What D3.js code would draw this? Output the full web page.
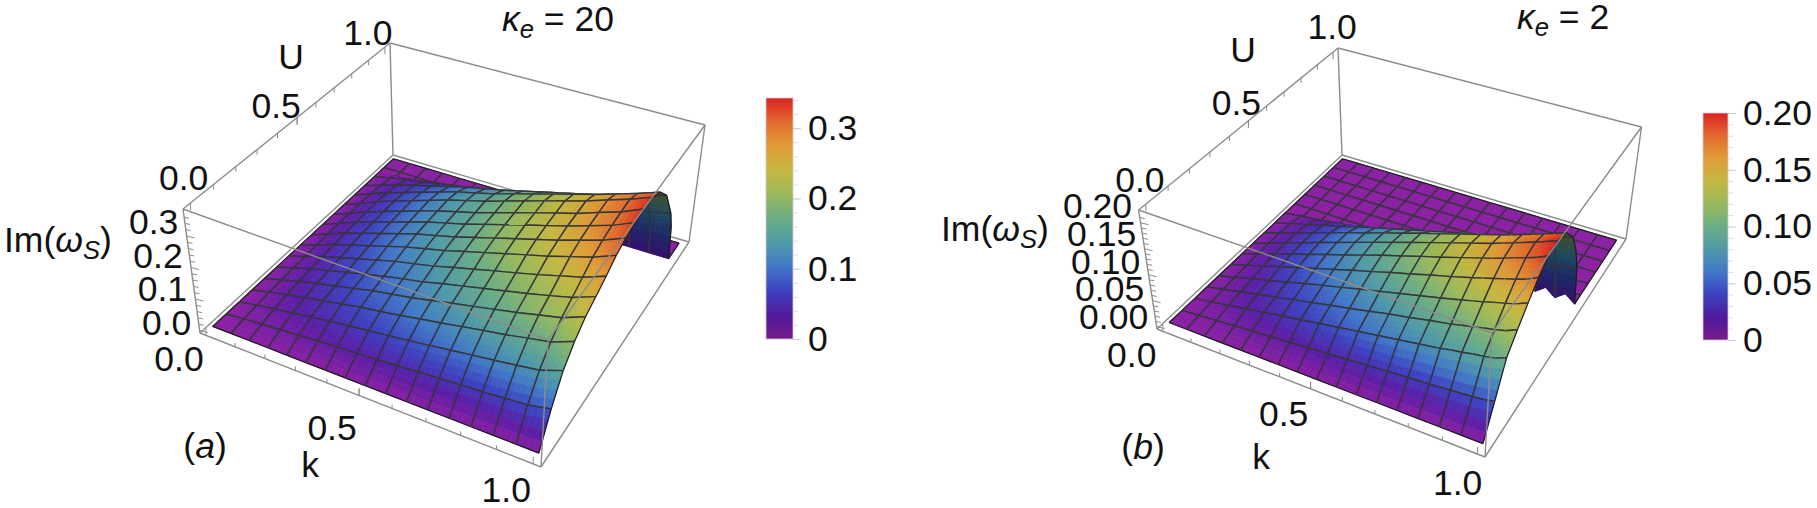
<!DOCTYPE html>
<html>
<head>
<meta charset="utf-8">
<script src="https://cdn.jsdelivr.net/npm/d3@7"></script>
<style>
  body { margin: 0; background: white; }
  text { font-family: "Liberation Sans", Arial, sans-serif; fill: #111; }
</style>
</head>
<body>
<div id="chart"></div>
<script>
// mesh lines sit on multiples of 1/16, the extra rows only shape the cut-off of the arch
const kGridA = [0, .0625, .125, .1875, .25, .3125, .375, .4375, .5, .5625, .625, .6875, .75, .8125, .875, .9375, 1]
const uGridA = [0, .0625, .125, .1875, .25, .3125, .375, .4375, .5, .5625, .625, .6875, .75, .8125, .875, .895, .91, .9375, 1]
// one row per k, one column per U
const zGridA = [
  [0, 0, 0, 0, 0, 0, 0, 0, 0, 0, 0, 0, 0, 0, 0, 0, 0, 0, 0],
  [0, .006, .010, .014, .016, .018, .019, .021, .022, .023, .023, .023, .022, .019, .012, .008, 0, 0, 0],
  [0, .011, .021, .027, .032, .035, .039, .042, .044, .046, .046, .047, .044, .038, .024, .016, 0, 0, 0],
  [0, .016, .029, .039, .046, .050, .055, .060, .063, .065, .066, .067, .063, .054, .034, .023, 0, 0, 0],
  [0, .021, .038, .050, .059, .065, .072, .078, .082, .085, .086, .087, .082, .070, .045, .030, 0, 0, 0],
  [0, .026, .047, .062, .073, .080, .088, .096, .101, .104, .106, .107, .101, .086, .055, .037, 0, 0, 0],
  [0, .030, .056, .074, .087, .095, .105, .114, .120, .124, .125, .127, .120, .102, .065, .044, 0, 0, 0],
  [0, .034, .063, .083, .098, .108, .118, .129, .135, .140, .142, .144, .135, .115, .074, .049, 0, 0, 0],
  [0, .038, .071, .093, .109, .120, .132, .144, .151, .156, .158, .161, .151, .129, .083, .055, 0, 0, 0],
  [0, .043, .079, .105, .123, .136, .149, .162, .170, .176, .178, .181, .170, .145, .093, .062, 0, 0, 0],
  [0, .048, .088, .116, .137, .151, .165, .180, .189, .195, .198, .201, .189, .161, .103, .069, 0, 0, 0],
  [0, .053, .097, .128, .150, .166, .182, .198, .208, .215, .218, .221, .208, .177, .114, .076, 0, 0, 0],
  [0, .058, .106, .140, .164, .181, .198, .216, .227, .234, .238, .241, .227, .193, .124, .083, 0, 0, 0],
  [0, .062, .115, .151, .178, .196, .215, .234, .246, .254, .257, .261, .246, .209, .134, .090, 0, 0, 0],
  [0, .068, .125, .165, .194, .213, .234, .255, .268, .276, .281, .285, .268, .228, .146, .098, 0, 0, 0],
  [0, .074, .135, .178, .210, .231, .253, .276, .290, .299, .304, .308, .290, .247, .158, .106, 0, 0, 0],
  [0, .088, .160, .205, .238, .258, .280, .305, .320, .330, .335, .335, .315, .268, .172, .115, 0, 0, 0]
]

const kGridB = [0, .0625, .125, .1875, .25, .3125, .375, .4375, .5, .5625, .625, .6875, .75, .8125, .84375, .875, .90625, .9375, .96875, 1]
const uGridB = [0, .0625, .125, .1875, .25, .3125, .375, .4375, .5, .5625, .6, .625, .64, .6875, .75, .8125, .875, .9375, 1]
const zGridB = [
  [0, 0, 0, 0, 0, 0, 0, 0, 0, 0, 0, 0, 0, 0, 0, 0, 0, 0, 0],
  [0, .003, .006, .008, .009, .011, .012, .012, .012, .010, .007, .005, 0, 0, 0, 0, 0, 0, 0],
  [0, .006, .012, .015, .018, .021, .023, .024, .023, .019, .014, .009, 0, 0, 0, 0, 0, 0, 0],
  [0, .009, .018, .023, .027, .032, .035, .036, .035, .029, .022, .014, 0, 0, 0, 0, 0, 0, 0],
  [0, .012, .024, .030, .036, .042, .046, .048, .046, .038, .029, .018, 0, 0, 0, 0, 0, 0, 0],
  [0, .014, .030, .038, .046, .053, .058, .060, .058, .048, .036, .023, 0, 0, 0, 0, 0, 0, 0],
  [0, .017, .036, .045, .055, .063, .069, .072, .069, .058, .043, .027, 0, 0, 0, 0, 0, 0, 0],
  [0, .020, .042, .053, .064, .074, .081, .084, .081, .067, .050, .032, 0, 0, 0, 0, 0, 0, 0],
  [0, .023, .048, .060, .073, .084, .093, .096, .092, .077, .058, .036, 0, 0, 0, 0, 0, 0, 0],
  [0, .026, .054, .068, .082, .095, .104, .108, .104, .086, .065, .041, 0, 0, 0, 0, 0, 0, 0],
  [0, .029, .060, .076, .091, .105, .116, .120, .115, .096, .072, .046, 0, 0, 0, 0, 0, 0, 0],
  [0, .032, .066, .083, .100, .116, .127, .132, .127, .106, .079, .050, 0, 0, 0, 0, 0, 0, 0],
  [0, .035, .072, .091, .109, .126, .139, .144, .138, .115, .086, .055, 0, 0, 0, 0, 0, 0, 0],
  [0, .037, .078, .098, .119, .137, .151, .156, .150, .125, .094, .059, 0, 0, 0, 0, 0, 0, 0],
  [0, .039, .082, .103, .124, .143, .157, .163, .156, .130, .098, .062, .014, 0, 0, 0, 0, 0, 0],
  [0, .041, .085, .107, .129, .149, .164, .170, .163, .136, .102, .065, 0, 0, 0, 0, 0, 0, 0],
  [0, .042, .089, .112, .135, .155, .171, .177, .170, .142, .106, .067, .014, 0, 0, 0, 0, 0, 0],
  [0, .044, .092, .116, .140, .161, .178, .184, .177, .147, .110, .070, 0, 0, 0, 0, 0, 0, 0],
  [0, .046, .096, .121, .146, .168, .185, .192, .184, .154, .115, .073, .014, 0, 0, 0, 0, 0, 0],
  [0, .050, .104, .130, .155, .178, .195, .200, .192, .160, .120, .076, 0, 0, 0, 0, 0, 0, 0]
]

const kTicks = [0, .5, 1]
const uTicks = [0, .5, 1]
const zTicksA = [0, .1, .2, .3]
const zTicksB = [0, .05, .1, .15, .2]
const barTicksA = [0, .1, .2, .3]
const barTicksB = [0, .05, .1, .15, .2]
const minorStep = d3.range(1, 10).map(d => d / 10)

const rainbow = ['#761b88', '#4f1a9c', '#3d42c0', '#4178c8', '#4f9aa8', '#6bad84', '#99b95c', '#c4b840', '#e09c38', '#e36a2e', '#da2222']
const surfaceRainbow = ['#8a1fa2', '#5a1ea6', '#3d42c0', '#4178c8', '#4f9aa8', '#6bad84', '#99b95c', '#c4b840', '#e09c38', '#e36a2e', '#da2222']
const undersideColors = ['#34106a', '#1c2a66', '#1e4a5e', '#3a4f30', '#3f4a28']

const panels = [
  {
    kGrid: kGridA, uGrid: uGridA, zGrid: zGridA, zTicks: zTicksA, zMax: .378, zFormat: d3.format('.1f'),
    surfaceMax: .335,
    base: [[200, 333], [541, 467], [689, 242], [393, 155]],
    top: [[183, 209], [548, 340], [705, 125], [390, 43]],
    barX: 766, barW: 27, barTop: 98, barBottom: 339, barMax: .343, barTicks: barTicksA, barMinor: .02, barFormat: d3.format('.1f'),
    uOffsets: [[-7, -25], [-21, -11], [-17, -14]],
    zOffsets: [-8, -10, -12, -14], zOffsetX: -33,
    kOffsets: [[-27, 24], [-27, 32], [-27, 26]],
    uLabel: [291, 57], kLabel: [310, 465], zLabel: [4, 252], tag: [205, 446], tagText: 'a',
    title: [502, 31], kappa: '20'
  },
  {
    kGrid: kGridB, uGrid: uGridB, zGrid: zGridB, zTicks: zTicksB, zMax: .22, zFormat: d3.format('.2f'),
    surfaceMax: .2,
    base: [[1157, 329], [1485, 457], [1626, 239], [1342, 155]],
    top: [[1138.6, 210], [1492, 333], [1641.5, 127], [1338, 48]],
    barX: 1703, barW: 25, barTop: 113, barBottom: 340, barMax: .2, barTicks: barTicksB, barMinor: .01, barFormat: d3.format('.2f'),
    uOffsets: [[-6, -24], [-12, -18], [-1, -25]],
    zOffsets: [-10, -12, -13, -15, -17], zOffsetX: -43,
    kOffsets: [[-31, 24], [-27, 25], [-20, 29]],
    uLabel: [1243, 50], kLabel: [1261, 457], zLabel: [941, 241], tag: [1143, 447], tagText: 'b',
    title: [1517, 29], kappa: '2'
  }
]

const fontSize = 35.5
const svg = d3.select('#chart').append('svg').attr('width', 1817).attr('height', 508)
const line = d3.line()

// square to quad, so the box keeps its perspective
function homography(q) {
  const [[x0, y0], [x1, y1], [x2, y2], [x3, y3]] = q
  const dx1 = x1 - x2, dx2 = x3 - x2, sx = x0 - x1 + x2 - x3
  const dy1 = y1 - y2, dy2 = y3 - y2, sy = y0 - y1 + y2 - y3
  const den = dx1 * dy2 - dx2 * dy1
  const g = (sx * dy2 - dx2 * sy) / den
  const h = (dx1 * sy - sx * dy1) / den
  const a = x1 - x0 + g * x1, b = x3 - x0 + h * x3
  const d = y1 - y0 + g * y1, e = y3 - y0 + h * y3
  return function(u, v) {
    const w = g * u + h * v + 1
    return [(a * u + b * v + x0) / w, (d * u + e * v + y0) / w]
  }
}

function isMesh(v) {
  return Math.abs(v * 16 - Math.round(v * 16)) < 1e-6
}

function drawPanel(p, index) {
  const g = svg.append('g').attr('class', 'panel-' + index)

  const baseH = homography(p.base)
  const topH = homography(p.top)
  const project = function(u, v, w) {
    const a = baseH(u, v), b = topH(u, v)
    return [a[0] + (b[0] - a[0]) * w, a[1] + (b[1] - a[1]) * w]
  }

  const kScale = d3.scaleLinear().domain([0, 1]).range([.02, .98])
  const uScale = d3.scaleLinear().domain([0, 1]).range([.03, .97])
  const zScale = d3.scaleLinear().domain([0, p.zMax]).range([.02, .98])
  const at = (k, U, z) => project(kScale(k), uScale(U), zScale(z))

  const colorDomain = surfaceRainbow.map((c, i) => i / (surfaceRainbow.length - 1) * p.barMax)
  const topColor = d3.scaleLinear().domain(colorDomain).range(surfaceRainbow)
  const underColor = d3.scaleLinear()
    .domain(undersideColors.map((c, i) => i / (undersideColors.length - 1) * p.surfaceMax))
    .range(undersideColors)

  // box edges behind the surface
  const boxLine = function(a, b) {
    g.append('path').attr('d', line([a, b])).attr('stroke', '#8c8c8c').attr('stroke-width', 1.4).attr('fill', 'none')
  }
  boxLine(project(0, 1, 0), project(0, 0, 0))
  boxLine(project(0, 1, 0), project(1, 1, 0))
  boxLine(project(0, 1, 0), project(0, 1, 1))
  boxLine(project(0, 0, 0), project(0, 0, 1))
  boxLine(project(1, 1, 0), project(1, 1, 1))
  boxLine(project(0, 0, 1), project(0, 1, 1))
  boxLine(project(0, 1, 1), project(1, 1, 1))

  // painter order: the camera looks from k > 1, U < 0
  const items = []
  const sub = 4
  for (let i = 0; i < p.kGrid.length - 1; i++) {
    for (let j = p.uGrid.length - 2; j >= 0; j--) {
      const k0 = p.kGrid[i], k1 = p.kGrid[i + 1], u0 = p.uGrid[j], u1 = p.uGrid[j + 1]
      const z00 = p.zGrid[i][j], z10 = p.zGrid[i + 1][j], z11 = p.zGrid[i + 1][j + 1], z01 = p.zGrid[i][j + 1]
      const zAt = (s, t) => z00 * (1 - s) * (1 - t) + z10 * s * (1 - t) + z11 * s * t + z01 * (1 - s) * t
      const pt = (s, t) => at(k0 + (k1 - k0) * s, u0 + (u1 - u0) * t, zAt(s, t))
      for (let a = 0; a < sub; a++) {
        for (let b = sub - 1; b >= 0; b--) {
          const s0 = a / sub, s1 = (a + 1) / sub, t0 = b / sub, t1 = (b + 1) / sub
          const q = [pt(s0, t0), pt(s1, t0), pt(s1, t1), pt(s0, t1)]
          const area = d3.polygonArea(q)
          const zMid = zAt((s0 + s1) / 2, (t0 + t1) / 2)
          // the quad flips on screen when we look at its lower side
          const fill = area < 0 ? underColor(zMid) : topColor(zMid)
          items.push({ d: line(q) + 'Z', fill: fill, stroke: fill, width: .7 })
        }
      }
      const edge = function(a, b, onBoundary) {
        items.push({
          d: line([a, b]), fill: 'none',
          stroke: onBoundary ? '#1c1c20' : '#35353a',
          width: onBoundary ? 1.2 : 1.4
        })
      }
      if (isMesh(u0)) edge(pt(0, 0), pt(1, 0), u0 === 0)
      if (isMesh(u1)) edge(pt(0, 1), pt(1, 1), u1 === 1)
      if (isMesh(k0)) edge(pt(0, 0), pt(0, 1), k0 === 0)
      if (isMesh(k1)) edge(pt(1, 0), pt(1, 1), k1 === 1)
    }
  }

  g.append('g').attr('class', 'surface').selectAll('path').data(items).join('path')
    .attr('d', d => d.d)
    .attr('fill', d => d.fill)
    .attr('stroke', d => d.stroke)
    .attr('stroke-width', d => d.width)
    .attr('stroke-linejoin', 'round')

  // box edges in front of the surface
  boxLine(project(0, 0, 0), project(1, 0, 0))
  boxLine(project(1, 0, 0), project(1, 1, 0))
  boxLine(project(1, 0, 0), project(1, 0, 1))
  boxLine(project(0, 0, 1), project(1, 0, 1))
  boxLine(project(1, 0, 1), project(1, 1, 1))

  // ticks on the box
  const tick = function(a, dx, dy) {
    g.append('path').attr('d', line([a, [a[0] + dx, a[1] + dy]]))
      .attr('stroke', '#8c8c8c').attr('stroke-width', 1).attr('fill', 'none')
  }
  minorStep.concat(kTicks).forEach(function(k) {
    const big = k === .5 || k === 0 || k === 1
    tick(project(kScale(k), 0, 0), 0, big ? -7 : -4)
    tick(project(0, uScale(k), 1), 0, big ? 7 : 5)
  })
  const zStep = p.barMinor
  d3.range(0, p.zMax, zStep).forEach(function(z) {
    const big = p.zTicks.some(t => Math.abs(t - z) < 1e-6)
    tick(project(0, 0, zScale(z)), big ? 8 : 5, big ? 2 : 1)
  })

  const label = function(x, y, txt) {
    return g.append('text').attr('x', x).attr('y', y).attr('font-size', fontSize)
      .attr('text-anchor', 'middle').attr('dominant-baseline', 'central').text(txt)
  }
  kTicks.forEach(function(k, i) {
    const a = project(kScale(k), 0, 0)
    label(a[0] + p.kOffsets[i][0], a[1] + p.kOffsets[i][1], d3.format('.1f')(k))
  })
  uTicks.forEach(function(U, i) {
    const a = project(0, uScale(U), 1)
    label(a[0] + p.uOffsets[i][0], a[1] + p.uOffsets[i][1], d3.format('.1f')(U))
  })
  p.zTicks.forEach(function(z, i) {
    const a = project(0, 0, zScale(z))
    label(a[0] + p.zOffsetX, a[1] + p.zOffsets[i], p.zFormat(z))
  })
  label(p.uLabel[0], p.uLabel[1], 'U')
  label(p.kLabel[0], p.kLabel[1], 'k')

  // Im(omega_S)
  const zText = g.append('text').attr('x', p.zLabel[0]).attr('y', p.zLabel[1]).attr('font-size', fontSize)
  zText.append('tspan').text('Im(')
  zText.append('tspan').attr('font-style', 'italic').text('ω')
  zText.append('tspan').attr('font-style', 'italic').attr('font-size', fontSize * .72).attr('dy', 7).text('S')
  zText.append('tspan').attr('dy', -7).text(')')

  const tagText = g.append('text').attr('x', p.tag[0]).attr('y', p.tag[1]).attr('font-size', fontSize)
    .attr('text-anchor', 'middle').attr('dominant-baseline', 'central')
  tagText.append('tspan').text('(')
  tagText.append('tspan').attr('font-style', 'italic').text(p.tagText)
  tagText.append('tspan').text(')')

  const title = g.append('text').attr('x', p.title[0]).attr('y', p.title[1]).attr('font-size', fontSize)
  title.append('tspan').attr('font-style', 'italic').text('κ')
  title.append('tspan').attr('font-style', 'italic').attr('font-size', fontSize * .72).attr('dy', 7).text('e')
  title.append('tspan').attr('dy', -7).text(' = ' + p.kappa)

  // colour bar
  const gradId = 'bar-' + index
  const grad = svg.append('defs').append('linearGradient').attr('id', gradId)
    .attr('x1', 0).attr('x2', 0).attr('y1', 1).attr('y2', 0)
  grad.selectAll('stop').data(rainbow).join('stop')
    .attr('offset', (d, i) => i / (rainbow.length - 1))
    .attr('stop-color', d => d)
  g.append('rect').attr('x', p.barX).attr('y', p.barTop)
    .attr('width', p.barW).attr('height', p.barBottom - p.barTop)
    .attr('fill', 'url(#' + gradId + ')').attr('stroke', '#d8c8d8').attr('stroke-width', .8)

  const barScale = d3.scaleLinear().domain([0, p.barMax]).range([p.barBottom, p.barTop])
  const barX = p.barX + p.barW

  const minorAxis = d3.axisRight(barScale).tickValues(d3.range(0, p.barMax, p.barMinor)).tickSize(5).tickFormat('')
  const minor = g.append('g').attr('transform', 'translate(' + barX + ' 0)').call(minorAxis)
  minor.select('.domain').remove()
  minor.selectAll('line').attr('stroke', '#dddddd')

  const barFormat = d => d === 0 ? '0' : p.barFormat(d)
  const barAxis = d3.axisRight(barScale).tickValues(p.barTicks).tickSize(8).tickPadding(7).tickFormat(barFormat)
  const major = g.append('g').attr('transform', 'translate(' + barX + ' 0)').call(barAxis)
  major.select('.domain').remove()
  major.selectAll('line').attr('stroke', '#cccccc')
  major.selectAll('text').attr('font-size', fontSize).attr('font-family', '"Liberation Sans", Arial, sans-serif').attr('fill', '#111')
}

panels.forEach(drawPanel)
</script>
</body>
</html>
